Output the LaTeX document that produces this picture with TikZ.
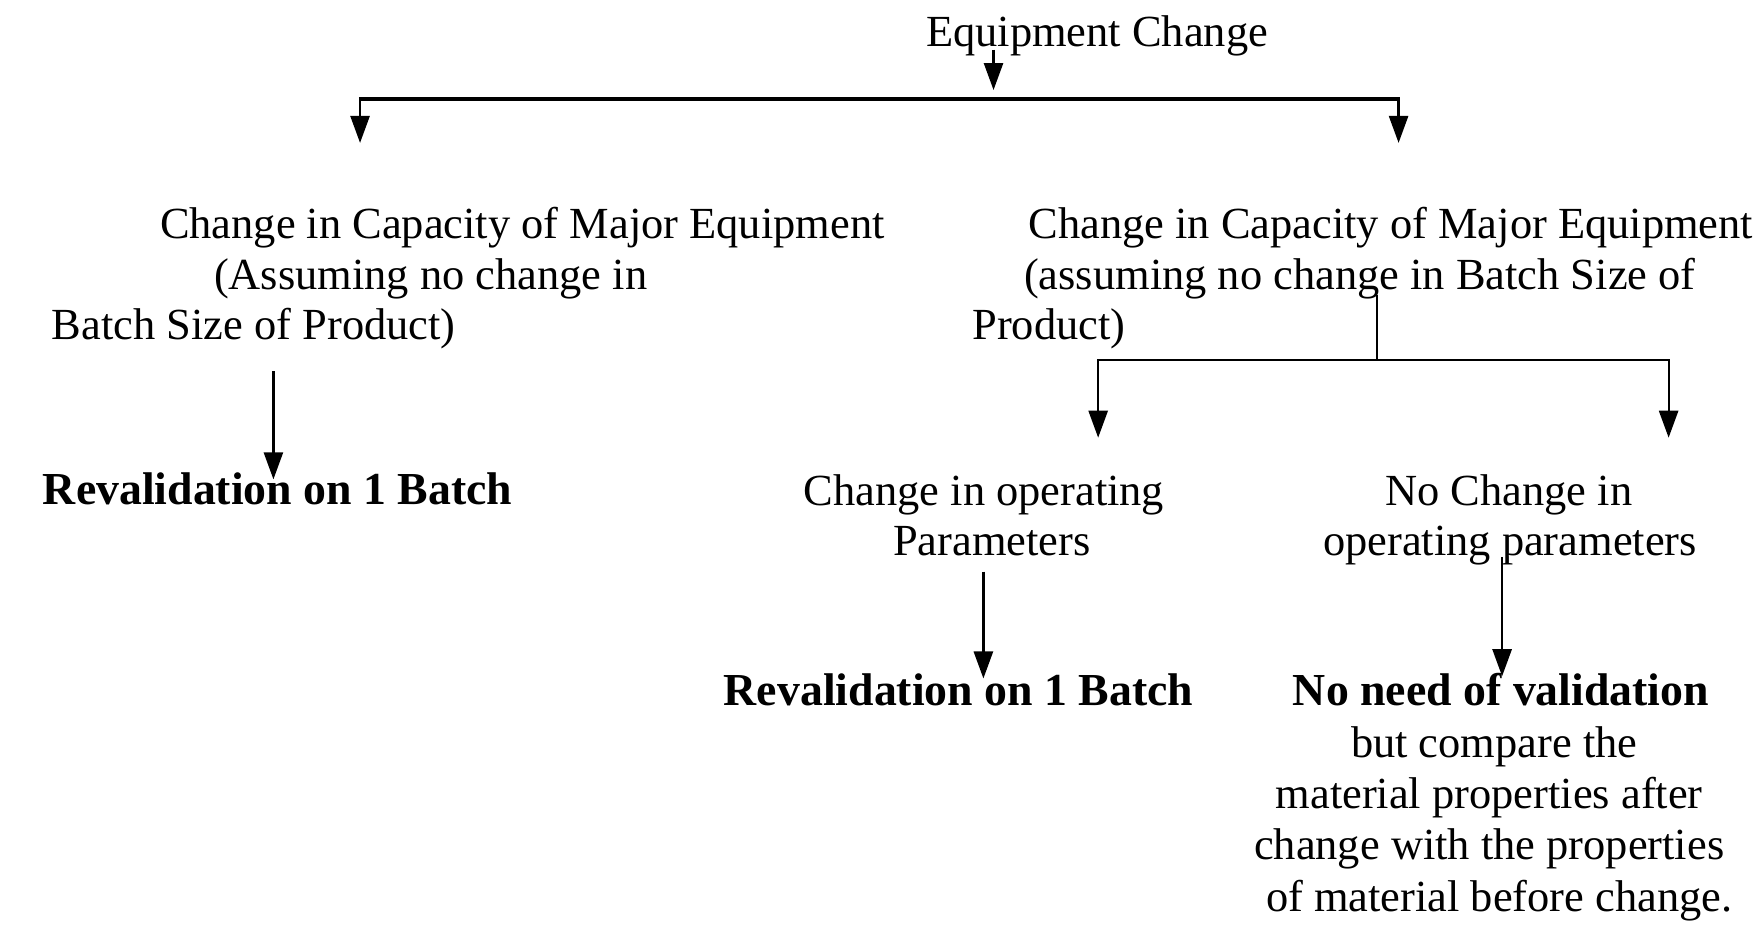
\documentclass[tikz,border=0pt]{standalone}
\usepackage{fontspec}
\setmainfont{Liberation Serif}
\usetikzlibrary{arrows.meta}
\begin{document}
\begin{tikzpicture}[x=1pt,y=-1pt,
  txt/.style={inner sep=0pt,font=\fontsize{39.5}{45}\selectfont},
  btxt/.style={inner sep=0pt,font=\fontsize{40.7}{45}\selectfont\bfseries},
  conn/.style={line width=2pt,draw=black},
  arr/.style={conn,-{Triangle[length=24pt,width=17pt]}},
  barline/.style={line width=2.8pt,draw=black}]
\useasboundingbox (0,0) rectangle (1566,832);
% top
\node[txt,anchor=base] (eq) at (975,41) {Equipment Change};
\coordinate (eqs) at (883,44);
\coordinate (eqt) at (883,80);
\coordinate (hl) at (320,88);
\coordinate (hr) at (1243,88);
\coordinate (hlt) at (320,127);
\coordinate (hrt) at (1243,127);
\draw[arr] (eqs) -- (eqt);
\draw[barline] ([xshift=-1pt]hl) -- ([xshift=1pt]hr);
\draw[arr] (hl) -- (hlt);
\draw[arr] (hr) -- (hrt);
% left block
\node[txt,anchor=base west] (l1) at (142,212) {Change in Capacity of Major Equipment};
\node[txt,anchor=base west] (l2) at (190,257) {(Assuming no change in};
\node[txt,anchor=base west] (l3) at (46,302) {Batch Size of Product)};
\node[btxt,anchor=base west] (rv1) at (38,448) {Revalidation on 1 Batch};
\coordinate (la0) at (243,330);
\coordinate (la1) at (243,426);
\draw[arr] (la0) -- (la1);
% right block
\node[txt,anchor=base west] (r1) at (914,212) {Change in Capacity of Major Equipment};
\node[txt,anchor=base west] (r2) at (910,257) {(assuming no change in Batch Size of};
\node[txt,anchor=base west] (r3) at (864,302) {Product)};
\coordinate (rv0) at (1224,262);
\coordinate (rj) at (1224,320);
\coordinate (rjl) at (976,320);
\coordinate (rjr) at (1483,320);
\coordinate (rjlt) at (976,389);
\coordinate (rjrt) at (1483,389);
\draw[conn] (rv0) -- (rj);
\draw[conn] ([xshift=-1pt]rjl) -- ([xshift=1pt]rjr);
\draw[arr] (rjl) -- (rjlt);
\draw[arr] (rjr) -- (rjrt);
% second level
\node[txt,anchor=base] (c1) at (874.5,449) {Change in operating};
\node[txt,anchor=base] (c2) at (881.5,494) {Parameters};
\node[txt,anchor=base] (n1) at (1341,449) {No Change in};
\node[txt,anchor=base] (n2) at (1342,494) {operating parameters};
\coordinate (ca0) at (874,508);
\coordinate (ca1) at (874,603);
\coordinate (na0) at (1335,495);
\coordinate (na1) at (1335,601);
\draw[arr] (ca0) -- (ca1);
\draw[arr] (na0) -- (na1);
% third level
\node[btxt,anchor=base] (rv2) at (852,627) {Revalidation on 1 Batch};
\node[btxt,anchor=base] (nv) at (1334,627) {No need of validation};
\node[txt,anchor=base] (b1) at (1328,673) {but compare the};
\node[txt,anchor=base] (b2) at (1323.5,719) {material properties after};
\node[txt,anchor=base] (b3) at (1323.5,764) {change with the properties};
\node[txt,anchor=base] (b4) at (1332.5,810) {of material before change.};
\end{tikzpicture}
\end{document}
